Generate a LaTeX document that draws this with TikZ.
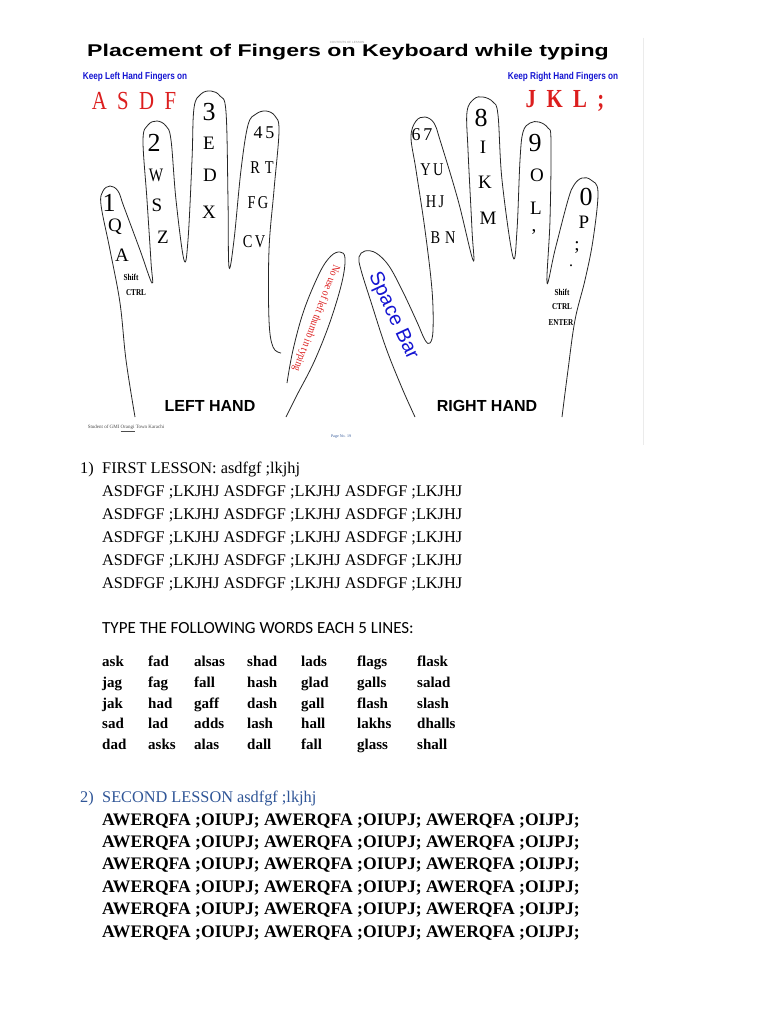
\documentclass[tikz,border=0pt]{standalone}
\usepackage{fontspec}
\setmainfont{Liberation Serif}
\setsansfont{Liberation Sans}
\newfontfamily\calib{Carlito}
\newcommand{\fs}[1]{\fontsize{#1}{#1}\selectfont}
\definecolor{kred}{RGB}{220,30,30}
\definecolor{kblue}{RGB}{20,20,210}
\definecolor{lblue}{RGB}{47,85,151}
\begin{document}
\begin{tikzpicture}[x=1pt,y=-1pt,
  hand/.style={draw=black!85,line width=0.8pt},
  dig/.style={font=\fs{26}},
  let/.style={font=\fs{19}},
  pair/.style={font=\fs{18}},
  tiny/.style={font=\bfseries\fs{9}},
  txt/.style={anchor=base west,inner sep=0pt,font=\fs{16.3}},
  btxt/.style={anchor=base west,inner sep=0pt,font=\bfseries\fs{17.6}},
  wrd/.style={anchor=base west,inner sep=0pt,font=\bfseries\fs{15}}]
\useasboundingbox (0,0) rectangle (768,1024);
\fill[white] (0,0) rectangle (768,1024);
\draw[black!8,line width=1pt] (643,38) -- (643,445);
% header
\node[font=\sffamily\fs{3},text=black!40] (hdr) at (347,42) {CONTENTS OF LESSON};
\node[font=\sffamily\bfseries\fs{17}] (title) at (348,52) {\scalebox{1.36}[1]{Placement of Fingers on Keyboard while typing}};
\node[font=\sffamily\bfseries\fs{10},text=kblue] (kl) at (135,77) {\scalebox{0.82}[1]{Keep Left Hand Fingers on}};
\node[font=\sffamily\bfseries\fs{10},text=kblue] (kr) at (563,77) {\scalebox{0.82}[1]{Keep Right Hand Fingers on}};
\node[font=\fs{26},text=kred] (asdf) at (134,101) {\scalebox{0.8}[1]{A\,\,\,S\,\,\,D\,\,\,F}};
\node[font=\bfseries\fs{26},text=kred] (jkl) at (565,101) {\scalebox{0.8}[1]{J\,\,\,K\,\,\,L\,\,\,;}};
% left hand
\draw[hand] plot[smooth,tension=0.6] coordinates {(135,417) (126,360) (120,303) (110,250) (101,205) (103,191) (110,186) (118,191) (124,207) (140,250) (152,283) (151,262) (147,200) (143,140) (148,125) (157,121) (166,126) (171,140) (176,200) (184,260) (188,240) (192,160) (194,108) (201,94) (211,91) (220,96) (226,112) (228,200) (229,267) (234,240) (241,170) (248,125) (256,114) (266,111) (275,116) (279,131) (274,190) (269,250) (269,320) (273,347) (281,353)};
\draw[hand] plot[smooth,tension=0.6] coordinates {(287,383) (293,350) (304,310) (320,272) (331,256) (340,252) (345,258) (342,282) (330,322) (314,362) (297,395) (286,417)};
% right hand
\draw[hand] plot[smooth,tension=0.6] coordinates {(415,417) (402,388) (386,348) (371,302) (361,270) (359,257) (365,251) (376,253) (389,266) (403,292) (417,322) (425,340) (430,343) (433,330) (432,290) (425,230) (416,170) (411,137) (416,121) (425,117) (434,123) (440,140) (458,200) (473,260) (472,230) (468,150) (467,112) (474,99) (483,97) (493,102) (498,115) (502,180) (513,257) (517,230) (520,160) (523,132) (530,123) (539,122) (548,128) (551,141) (550,220) (547,283) (555,250) (568,200) (574,185) (582,178) (591,180) (598,192) (593,240) (585,280) (575,320) (568,370) (562,417)};
% left labels
\node[dig] (l1) at (109,203) {1};
\node[let] (lq) at (115,227) {Q};
\node[let] (la) at (122,255) {A};
\node[tiny] (ls) at (131,277) {\scalebox{0.8}[1]{Shift}};
\node[tiny] (lc) at (136,293) {\scalebox{0.8}[1]{CTRL}};
\node[dig] (l2) at (154,143) {2};
\node[let] (lw) at (156,175) {\scalebox{0.8}[1]{W}};
\node[let] (lss) at (157,205) {S};
\node[let] (lz) at (163,237) {Z};
\node[dig] (l3) at (209,112) {3};
\node[let] (le) at (209,143) {E};
\node[let] (ld) at (210,175) {D};
\node[let] (lx) at (209,212) {X};
\node[pair] (l45) at (264,133) {4\,5};
\node[pair] (lrt) at (262,168) {\scalebox{0.8}[1]{R\,\,T}};
\node[pair] (lfg) at (258,203) {\scalebox{0.8}[1]{F\,G}};
\node[pair] (lcv) at (254,242) {\scalebox{0.8}[1]{C\,V}};
\node[font=\fs{11},text=kred,rotate=-111,inner sep=0pt] (nouse) at (316,318) {\scalebox{0.85}[1]{No use of left thumb in typing}};
\node[font=\sffamily\fs{20},text=kblue,rotate=-65,inner sep=0pt] (space) at (393,316) {Space Bar};
% right labels
\node[pair] (r67) at (422,135) {6\,7};
\node[pair] (ryu) at (432,170) {\scalebox{0.8}[1]{Y\,U}};
\node[pair] (rhj) at (435,202) {\scalebox{0.8}[1]{H\,J}};
\node[pair] (rbn) at (443,238) {\scalebox{0.8}[1]{B\,\,N}};
\node[dig] (r8) at (481,118) {8};
\node[let] (ri) at (483,147) {I};
\node[let] (rk) at (485,182) {K};
\node[let] (rm) at (488,218) {M};
\node[dig] (r9) at (535,143) {9};
\node[let] (ro) at (537,175) {O};
\node[let] (rl) at (536,208) {L};
\node[let] (rcom) at (534,232) {,};
\node[dig] (r0) at (586,197) {0};
\node[let] (rp) at (584,222) {P};
\node[let] (rsc) at (577,248) {;};
\node[font=\fs{16}] (rdot) at (571,266) {.};
\node[tiny] (rs) at (562,292) {\scalebox{0.8}[1]{Shift}};
\node[tiny] (rc) at (562,307) {\scalebox{0.8}[1]{CTRL}};
\node[tiny] (ren) at (561,323) {\scalebox{0.8}[1]{ENTER}};
\node[font=\sffamily\bfseries\fs{16}] (lh) at (210,406) {LEFT HAND};
\node[font=\sffamily\bfseries\fs{16}] (rh) at (487,406) {RIGHT HAND};
\node[font=\fs{5},text=black!70] (stu) at (126,428) {Student of GMI \underline{Orangi} Town Karachi};
\node[font=\fs{4},text=lblue] (pg) at (341,437) {Page No. 19};
% first lesson
\node[txt] (n1) at (80,473) {1)};
\node[txt] (t1) at (102,473) {FIRST LESSON: asdfgf ;lkjhj};
\foreach \y [count=\i] in {496,519,542,565,588}
  \node[txt] (fl\i) at (102,\y) {ASDFGF ;LKJHJ ASDFGF ;LKJHJ ASDFGF ;LKJHJ};
\node[txt,font=\calib\fs{17}] (type) at (102,633) {TYPE THE FOLLOWING WORDS EACH 5 LINES:};
\foreach \a/\b/\c/\d/\e/\f/\g/\y [count=\i] in {
  ask/fad/alsas/shad/lads/flags/flask/666,
  jag/fag/fall/hash/glad/galls/salad/687,
  jak/had/gaff/dash/gall/flash/slash/708,
  sad/lad/adds/lash/hall/lakhs/dhalls/728,
  dad/asks/alas/dall/fall/glass/shall/749}{
  \node[wrd] (w\i a) at (102,\y) {\a};
  \node[wrd] (w\i b) at (148,\y) {\b};
  \node[wrd] (w\i c) at (194,\y) {\c};
  \node[wrd] (w\i d) at (247,\y) {\d};
  \node[wrd] (w\i e) at (301,\y) {\e};
  \node[wrd] (w\i f) at (357,\y) {\f};
  \node[wrd] (w\i g) at (417,\y) {\g};
}
% second lesson
\node[txt,text=lblue] (n2) at (80,802) {2)};
\node[txt,text=lblue] (t2) at (102,802) {SECOND LESSON asdfgf ;lkjhj};
\foreach \y [count=\i] in {825,847,869,892,914,937}
  \node[btxt] (sl\i) at (102,\y) {AWERQFA ;OIUPJ; AWERQFA ;OIUPJ; AWERQFA ;OIJPJ;};
\end{tikzpicture}
\end{document}
